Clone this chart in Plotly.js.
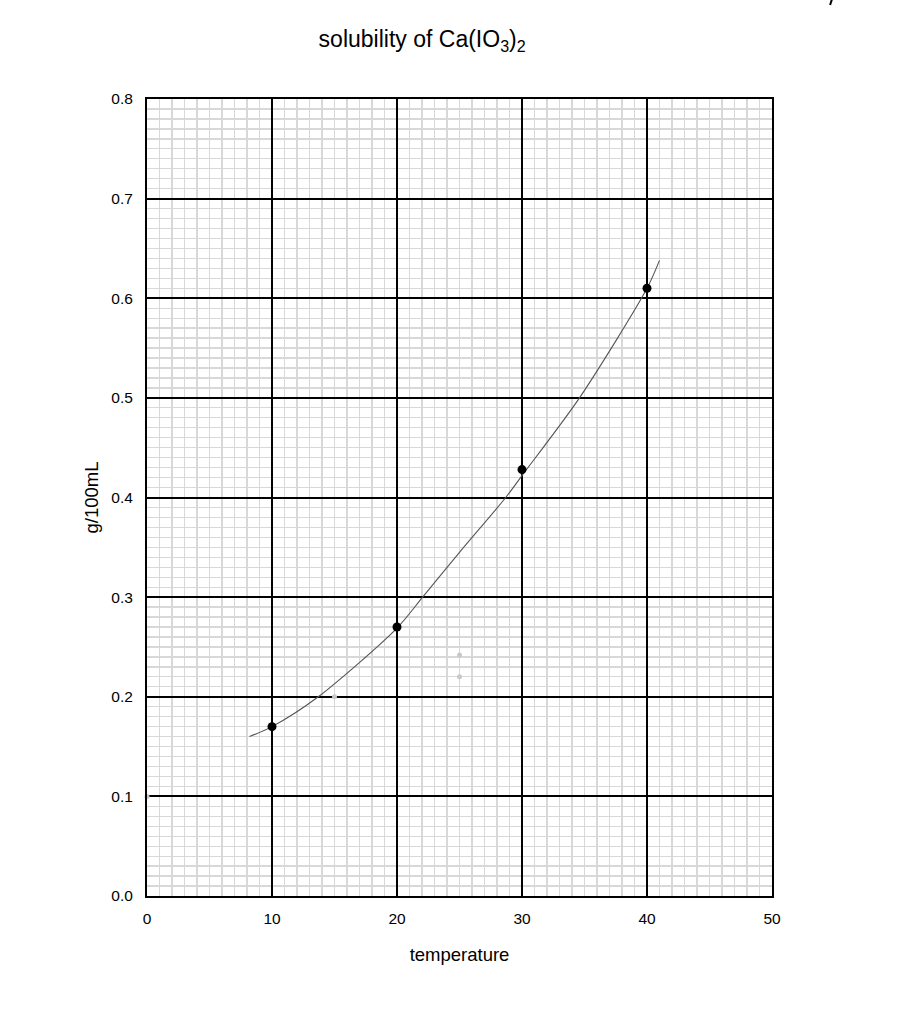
<!DOCTYPE html>
<html>
<head>
<meta charset="utf-8">
<script src="https://cdn.plot.ly/plotly-3.0.1.min.js"></script>
<style>
  body { margin: 0; background: #fff; }
  #graph { width: 904px; height: 1024px; }
</style>
</head>
<body>
<div id="graph"></div>
<script>
// measured points
var temps = [10, 20, 30, 40]
var solub = [0.17, 0.27, 0.428, 0.61]

// trend curve
var curveX = [8.2, 10, 13.7, 20, 22.05, 25, 28.7, 30, 34.6, 40, 41]
var curveY = [0.160, 0.170, 0.200, 0.269, 0.300, 0.345, 0.400, 0.422, 0.500, 0.610, 0.638]

// faint grey dots
var faintX = [0, 15, 25, 25]
var faintY = [0.1, 0.2, 0.242, 0.22]

var font = "Liberation Sans, Arial, sans-serif"

let curve = {
    x: curveX,
    y: curveY,
    type: "scatter",
    mode: "lines",
    line: {color: "#555", width: 1.1, shape: "spline", smoothing: 0.8},
    hoverinfo: "skip"
}

let faint = {
    x: faintX,
    y: faintY,
    type: "scatter",
    mode: "markers",
    marker: {color: "#c8c8c8", size: 5},
    cliponaxis: false
}

let pts = {
    x: temps,
    y: solub,
    type: "scatter",
    mode: "markers",
    marker: {color: "#000", size: 9}
}

let layout = {
    width: 904,
    height: 1024,
    showlegend: false,
    paper_bgcolor: "#fff",
    plot_bgcolor: "#fff",
    margin: {l: 147, r: 132, t: 99, b: 128},
    font: {family: font, color: "#000", size: 15},
    title: {
        text: "solubility of Ca(IO<sub>3</sub>)<sub>2</sub>",
        x: 0.467, xanchor: "center", xref: "container",
        y: 0.962, yanchor: "middle", yref: "container",
        font: {family: font, size: 23, color: "#000"}
    },
    xaxis: {
        range: [0, 50],
        dtick: 10,
        tick0: 0,
        showgrid: true,
        gridcolor: "#000",
        gridwidth: 2,
        zeroline: false,
        showline: true,
        linecolor: "#000",
        linewidth: 2,
        mirror: true,
        ticks: "",
        ticklabelstandoff: 7,
        tickfont: {size: 15.5},
        minor: {dtick: 1, showgrid: true, gridcolor: "#d8d8d8", gridwidth: 1.3},
        title: {text: "temperature", font: {size: 18.5}, standoff: 22}
    },
    yaxis: {
        range: [0, 0.8],
        dtick: 0.1,
        tick0: 0,
        tickformat: ".1f",
        showgrid: true,
        gridcolor: "#000",
        gridwidth: 2,
        zeroline: false,
        showline: true,
        linecolor: "#000",
        linewidth: 2,
        mirror: true,
        ticks: "",
        ticklabelstandoff: 9,
        tickfont: {size: 15.5},
        minor: {dtick: 0.01, showgrid: true, gridcolor: "#d8d8d8", gridwidth: 1.3},
        title: {text: "g/100mL", font: {size: 18.5}, standoff: 8}
    },
    shapes: [
        {type: "line", xref: "paper", yref: "paper", x0: 1.093, y0: 1.118, x1: 1.097, y1: 1.128,
         line: {color: "#000", width: 2}}
    ]
}

Plotly.newPlot("graph", [curve, faint, pts], layout, {displayModeBar: false, staticPlot: true})
</script>
</body>
</html>
